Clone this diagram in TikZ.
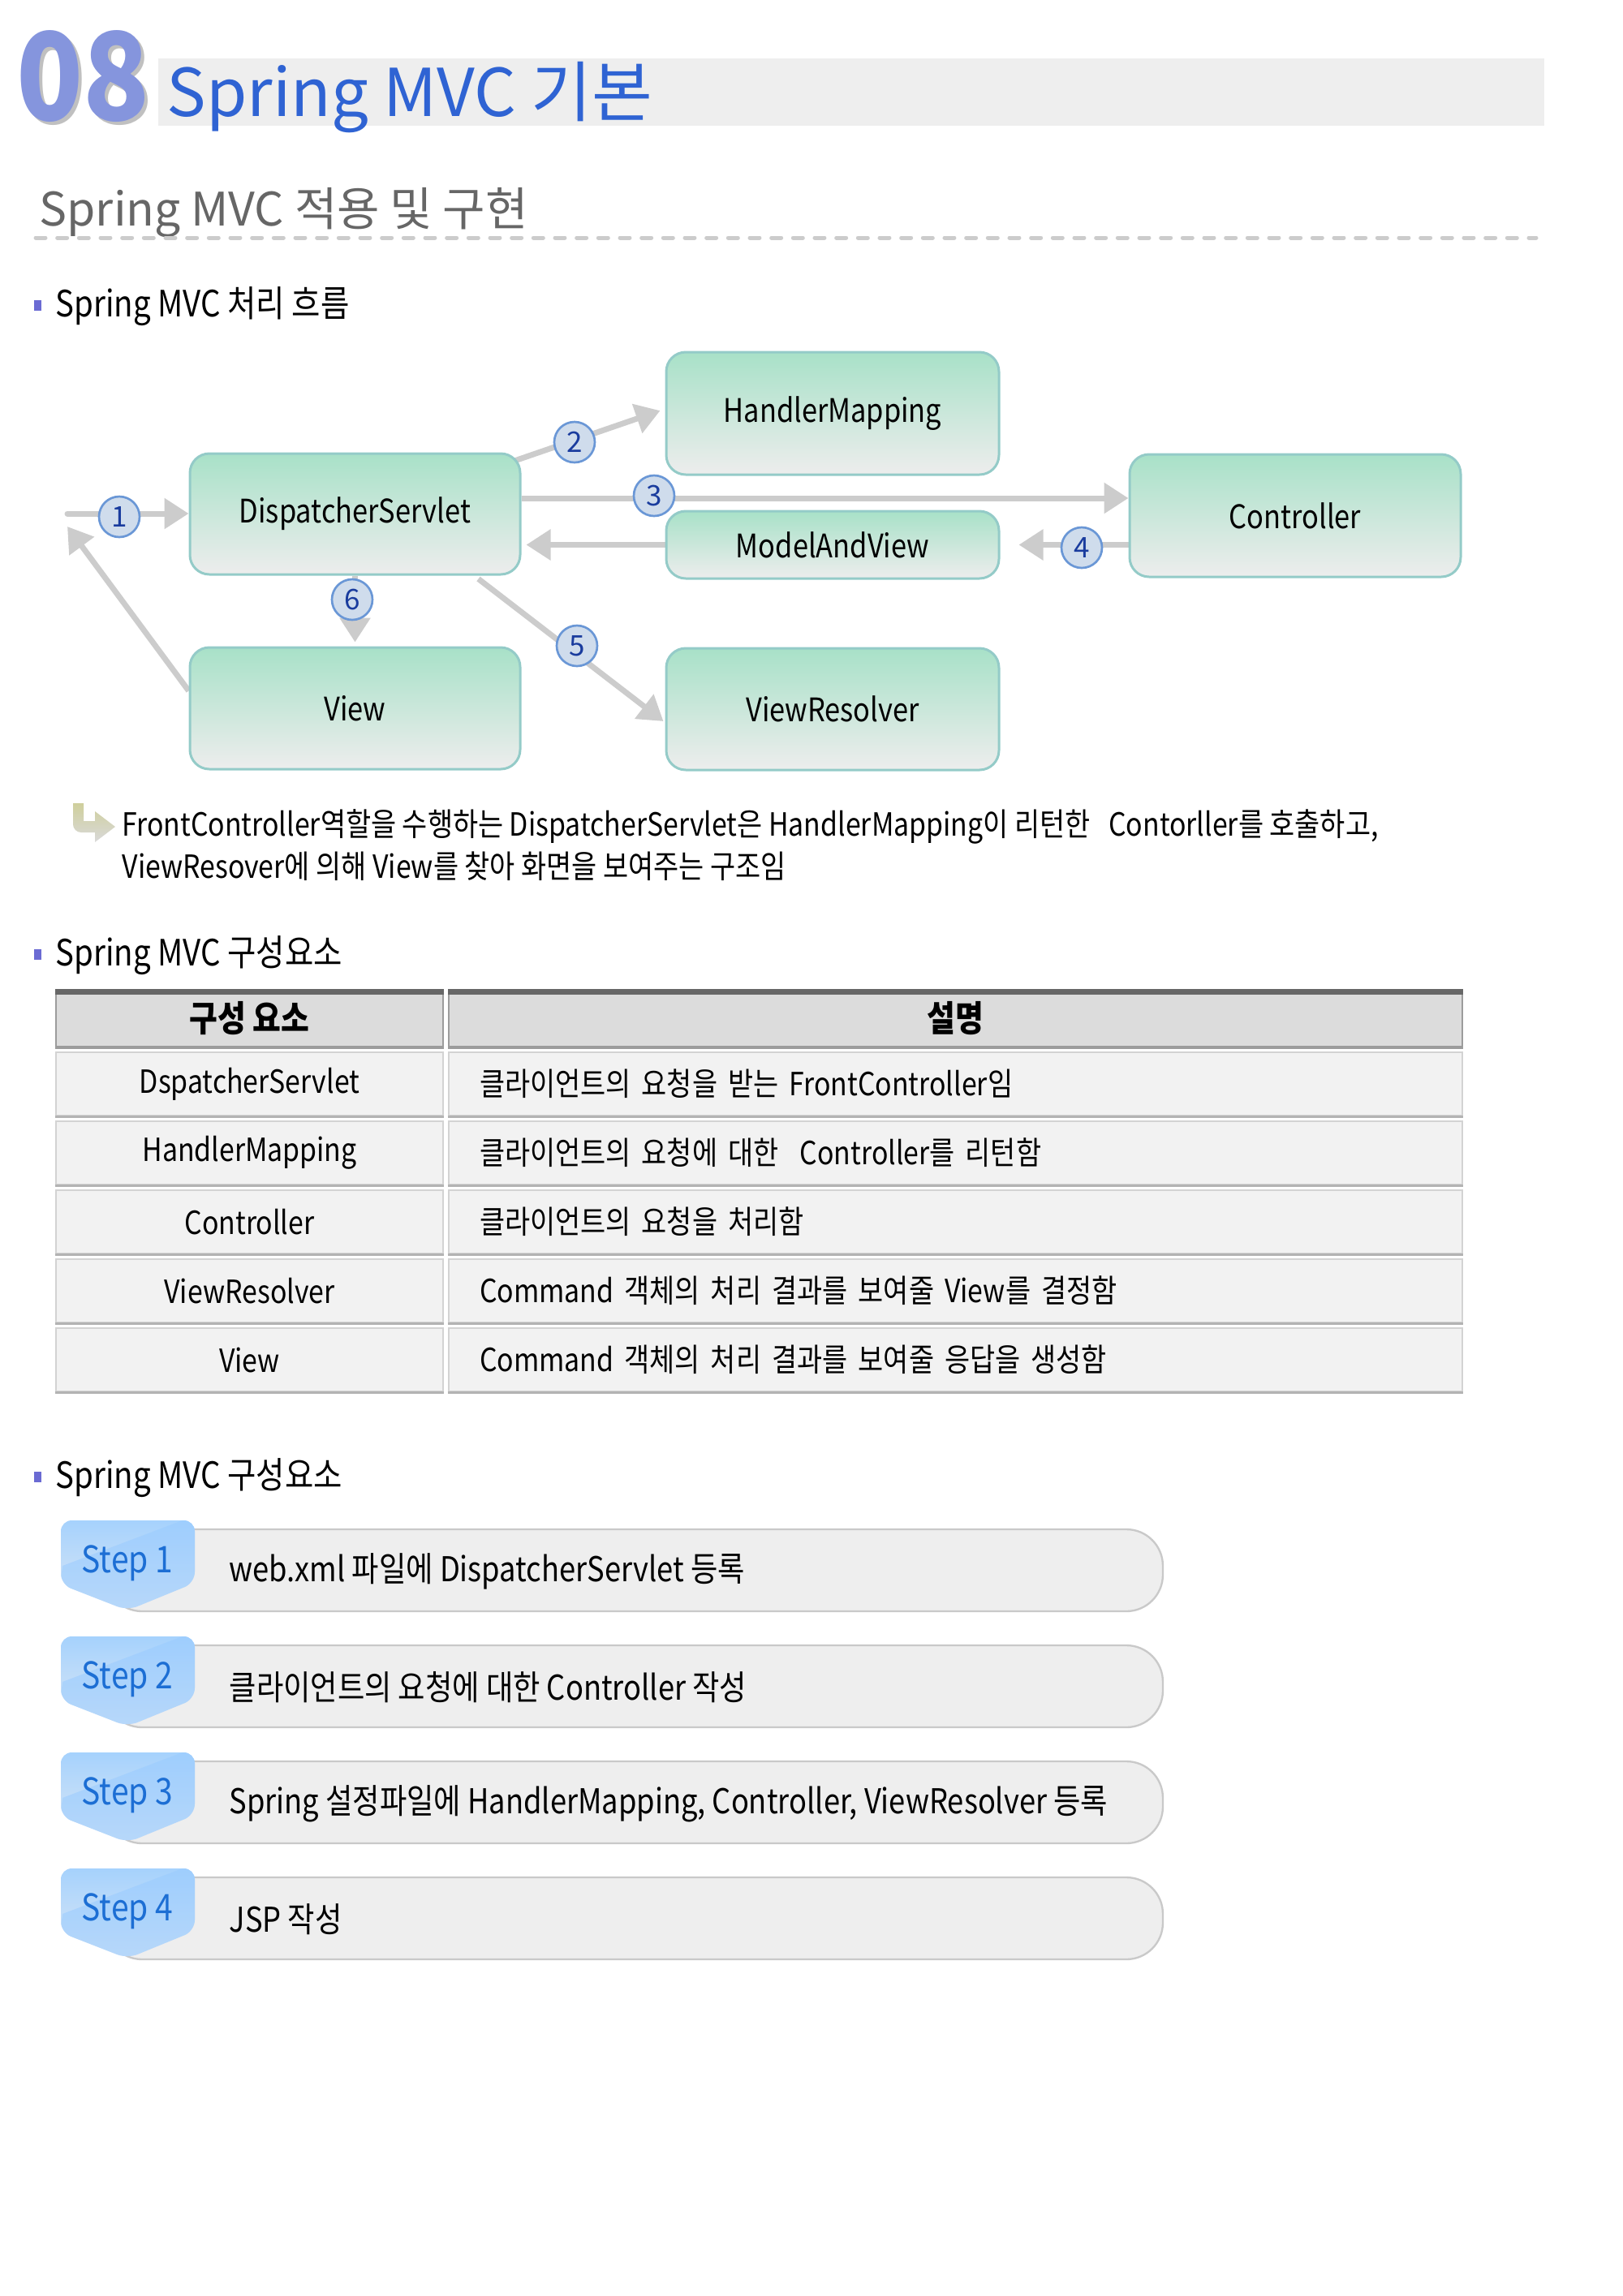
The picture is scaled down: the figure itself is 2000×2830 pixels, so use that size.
\documentclass[tikz,border=0pt]{standalone}
\usepackage{fontspec}
\setmainfont{Noto Sans CJK KR}
\newfontfamily\krc{Noto Sans CJK KR}[FakeStretch=0.86]
\newfontfamily\krw{Noto Sans CJK KR}
\newfontfamily\kreight{Noto Sans CJK KR}[FakeStretch=0.9]
\usetikzlibrary{arrows.meta,shadings}
\pgfdeclarelayer{bg}
\pgfsetlayers{bg,main}
\definecolor{boxtop}{HTML}{A8E1C8}
\definecolor{boxbot}{HTML}{EDEDED}
\definecolor{boxline}{HTML}{94CBC8}
\definecolor{arrgray}{HTML}{CCCCCC}
\definecolor{circfill}{HTML}{CFDCEC}
\definecolor{circline}{HTML}{6A97D6}
\definecolor{numblue}{HTML}{1A3C9E}
\definecolor{titleblue}{HTML}{2F63D3}
\definecolor{numeight}{HTML}{8595DD}
\definecolor{subgray}{HTML}{666666}
\definecolor{bulletc}{HTML}{6B6BD3}
\definecolor{titlebar}{HTML}{EEEEEE}
\definecolor{hfill}{HTML}{DCDCDC}
\definecolor{bandc}{HTML}{676767}
\definecolor{hline}{HTML}{9C9C9C}
\definecolor{cfill}{HTML}{F2F2F2}
\definecolor{cline}{HTML}{D3D3D3}
\definecolor{barfill}{HTML}{EEEEEE}
\definecolor{barline}{HTML}{C9C9C9}
\definecolor{badgetop}{HTML}{A4D1FD}
\definecolor{badgebot}{HTML}{DFE9F4}
\definecolor{badgedark}{HTML}{99CBFF}
\definecolor{badgetext}{HTML}{1C6ED4}
\definecolor{icontop}{HTML}{CFCF9C}
\definecolor{iconbot}{HTML}{D9D9D9}
\begin{document}
\begin{tikzpicture}[x=0.3pt,y=-0.3pt,
  box/.style={rectangle, rounded corners=7.2pt, draw=boxline, line width=0.9pt,
    top color=boxtop, bottom color=boxbot, inner sep=0pt, text=black,
    font=\krc\fontsize{12}{14}\selectfont},
  numc/.style={circle, minimum size=15pt, inner sep=0pt, fill=circfill, draw=circline,
    line width=0.8pt, text=numblue, font=\krw\fontsize{10.5}{12}\selectfont},
  flow/.style={draw=arrgray, line width=2.1pt, -{Triangle[length=9pt,width=11pt]}},
  head/.style={inner sep=0pt, text=black, font=\krc\fontsize{13.4}{15}\selectfont},
  notetext/.style={inner sep=0pt, text=black, font=\krc\fontsize{11.8}{13}\selectfont},
  hcell/.style={rectangle, fill=hfill, draw=hline, line width=0.6pt, minimum height=21pt,
    inner sep=0pt, font=\krc\bfseries\fontsize{13.2}{15}\selectfont},
  cellone/.style={rectangle, fill=cfill, draw=cline, line width=0.8pt, minimum height=23.4pt,
    minimum width=143.1pt, inner sep=0pt, font=\krc\fontsize{11.8}{14}\selectfont},
  celltwo/.style={rectangle, fill=cfill, draw=cline, line width=0.8pt, minimum height=23.4pt,
    text width=351.9pt, inner xsep=11.4pt, inner ysep=0pt, align=left,
    font=\krc\fontsize{11.8}{14}\selectfont},
  stepbar/.style={rectangle, rounded corners=13.5pt, fill=barfill, draw=barline, line width=0.7pt,
    minimum width=390.9pt, minimum height=30.3pt, inner sep=0pt},
  steptext/.style={inner sep=0pt, text=black, font=\krc\fontsize{12.65}{14}\selectfont},
  badgetxt/.style={inner sep=0pt, text=badgetext, font=\krc\fontsize{13.6}{15}\selectfont}
]
\useasboundingbox (0,0) rectangle (2000,2830);

% ---------- title ----------
\fill[titlebar] (195,72) rectangle (1903,155);
\node[anchor=base west, inner sep=0pt, text=black!45, opacity=0.55, font=\kreight\bfseries\fontsize{45}{50}\selectfont] (eightshadow) at (24,152) {08};
\node[anchor=base west, inner sep=0pt, text=numeight, font=\kreight\bfseries\fontsize{45}{50}\selectfont] (eight) at (20,148) {08};
\node[anchor=base west, inner sep=0pt, text=titleblue, font=\krw\fontsize{24.4}{27}\selectfont] (title) at (205,143) {Spring MVC 기본};

\node[anchor=base west, inner sep=0pt, text=subgray, font=\krw\fontsize{17.1}{19}\selectfont] (subtitle) at (48,278) {Spring MVC 적용 및 구현};
\draw[arrgray, line width=1.5pt, line cap=round, dash pattern=on 3.6pt off 4.4pt] (44,293) -- (1893,293);

% ---------- section 1 ----------
\fill[bulletc] (42,370) rectangle (51,383);
\node[head, anchor=base west] (h1) at (68,390) {Spring MVC 처리 흐름};

\node[box, minimum width=122.1pt, minimum height=44.7pt] (DS) at (437.5,633.5) {DispatcherServlet};
\node[box, minimum width=123pt, minimum height=45.3pt] (HM) at (1026,509.5) {HandlerMapping};
\node[box, minimum width=122.4pt, minimum height=45.3pt] (CT) at (1596,635.5) {Controller};
\node[box, minimum width=123pt, minimum height=24.9pt] (MAV) at (1026,671.5) {ModelAndView};
\node[box, minimum width=122.1pt, minimum height=45pt] (VW) at (437.5,873) {View};
\node[box, minimum width=123pt, minimum height=45pt] (VR) at (1026,874) {ViewResolver};

\coordinate (inp) at (83,633);
\coordinate (ret) at (83,649);
\begin{pgfonlayer}{bg}
  \draw[flow, line cap=round] (inp) -- (inp -| DS.west);
  \draw[flow] ([yshift=-16.5pt]VW.north west) -- (ret);
  \draw[flow] ([xshift=-3pt,yshift=-3.3pt]DS.north east) -- ([xshift=-1.8pt,yshift=1pt]HM.west);
  \draw[flow] ([yshift=5.85pt]DS.east) coordinate (tstart) -- (tstart -| CT.west);
  \draw[flow] (MAV.west) -- ([xshift=1.8pt]MAV.west -| DS.east);
  \draw[flow] (CT.west |- MAV.east) -- ([xshift=6.9pt]MAV.east);
  \draw[flow] ([xshift=-15.9pt,yshift=-1.2pt]DS.south east) -- ([xshift=-0.6pt,yshift=-4.5pt]VR.west);
  \draw[flow] (DS.south) -- ([yshift=1.5pt]DS.south |- VW.north);
\end{pgfonlayer}

\node[numc] (n1) at (147,637) {1};
\node[numc] (n2) at (708,545) {2};
\node[numc] (n3) at (806,611) {3};
\node[numc] (n4) at (1333,675) {4};
\node[numc] (n5) at (711,796) {5};
\node[numc] (n6) at (434,739) {6};

% ---------- note ----------
\shade[top color=icontop, bottom color=iconbot] (90,990) -- (103,990) -- (103,1012) -- (117,1012) -- (117,1000) -- (142,1019) -- (117,1038) -- (117,1026) -- (100,1026) to[out=180,in=-90] (90,1016) -- cycle;
\node[notetext, anchor=base west] (note1) at (150,1030) {FrontController역할을 수행하는 DispatcherServlet은 HandlerMapping이 리턴한\ \ \ Contorller를 호출하고,};
\node[notetext, anchor=base west] (note2) at (150,1082) {ViewResover에 의해 View를 찾아 화면을 보여주는 구조임};

% ---------- section 2: table ----------
\fill[bulletc] (42,1170) rectangle (51,1183);
\node[head, anchor=base west] (h2) at (68,1190) {Spring MVC 구성요소};

\node[hcell, minimum width=143.1pt] (th1) at (307.5,1255) {구성 요소};
\node[hcell, minimum width=374.7pt] (th2) at (1177.5,1255) {설명};
\foreach \c in {th1,th2}{
  \fill[bandc] (\c.north west) rectangle ([yshift=-2.1pt]\c.north east);
  \draw[hline, line width=1.2pt] (\c.south west) -- (\c.south east);
}

\foreach \i/\a/\b in {0/DspatcherServlet/{클라이언트의 요청을 받는 FrontController임},
                      1/HandlerMapping/{클라이언트의 요청에 대한\ \ Controller를 리턴함},
                      2/Controller/{클라이언트의 요청을 처리함},
                      3/ViewResolver/{Command 객체의 처리 결과를 보여줄 View를 결정함},
                      4/View/{Command 객체의 처리 결과를 보여줄 응답을 생성함}}{
  \node[cellone] (ra\i) at (307.5,{1336+85*\i}) {\a};
  \node[celltwo] (rb\i) at (1177.5,{1336+85*\i}) {\b};
  \draw[cline!85!black, line width=0.9pt] (ra\i.south west) -- (ra\i.south east);
  \draw[cline!85!black, line width=0.9pt] (rb\i.south west) -- (rb\i.south east);
}

% ---------- section 3: steps ----------
\fill[bulletc] (42,1814) rectangle (51,1827);
\node[head, anchor=base west] (h3) at (68,1834) {Spring MVC 구성요소};

\foreach \i/\n/\t in {0/1/{web.xml 파일에 DispatcherServlet 등록},
                      1/2/{클라이언트의 요청에 대한 Controller 작성},
                      2/3/{Spring 설정파일에 HandlerMapping, Controller, ViewResolver 등록},
                      3/4/{JSP 작성}}{
  \node[stepbar] (bar\i) at (781.5,{1935.5+143*\i}) {};
  \begin{scope}
    \path[clip, rounded corners=4pt] (116,{1874+143*\i}) -- (240,{1874+143*\i}) -- (240,{1951+143*\i}) -- (157,{1985+143*\i}) -- (75,{1953+143*\i}) -- (75,{1874+143*\i}) -- cycle;
    \shade[top color=badgetop, bottom color=badgebot] (70,{1870+143*\i}) rectangle (245,{1990+143*\i});
    \fill[badgedark, opacity=0.55] (77,{1930+143*\i}) -- (230,{1872+143*\i}) -- (245,{1870+143*\i}) -- (245,{1960+143*\i}) -- (150,{1990+143*\i}) -- (70,{1990+143*\i}) -- cycle;
  \end{scope}
  \node[badgetxt, anchor=base west] (sl\i) at (100,{1938+143*\i}) {Step \n};
  \node[steptext, anchor=west] (st\i) at (282,{1937+143*\i}) {\t};
}
\end{tikzpicture}
\end{document}
